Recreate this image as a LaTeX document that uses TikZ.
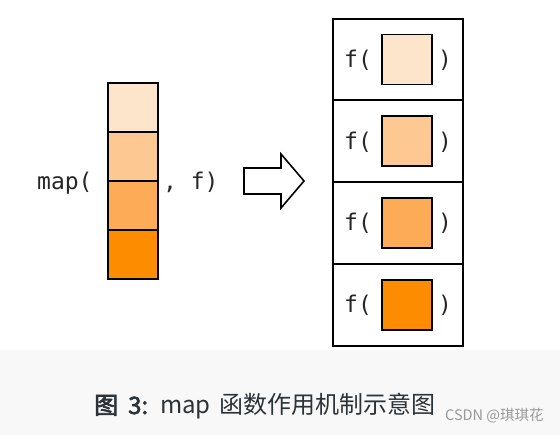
\documentclass[tikz,border=0pt]{standalone}
\usepackage{fontspec}
\newfontfamily\monof{DejaVu Sans Mono}
\newfontfamily\cjk{Noto Sans CJK SC}
\newfontfamily\cjkb{Noto Sans CJK SC}[FakeBold=2.5]
\newfontfamily\wmf{Noto Sans CJK SC}
\definecolor{c1}{HTML}{FDE5CB}
\definecolor{c2}{HTML}{FDC892}
\definecolor{c3}{HTML}{FDAB56}
\definecolor{c4}{HTML}{FD8C00}
\definecolor{capbg}{HTML}{F8F8F8}
\definecolor{captxt}{HTML}{2C3338}
\begin{document}
\begin{tikzpicture}[x=1pt,y=-1pt,
  cell/.style={draw=black,line width=1.8pt,minimum width=50pt,minimum height=49pt,inner sep=0pt},
  sq/.style={draw=black,line width=1.8pt,minimum width=50pt,minimum height=50pt,inner sep=0pt},
  slot/.style={draw=black,line width=1.8pt,minimum width=130pt,minimum height=81.75pt,inner sep=0pt},
  code/.style={font=\monof\fontsize{23}{23}\selectfont,text=black!85,inner sep=0pt,anchor=base west}]
\useasboundingbox (0,0) rectangle (560,435);
\fill[white] (0,0) rectangle (560,350);
\fill[capbg] (0,350) rectangle (560,435);
% left column
\node[cell,fill=c1] (a1) at (133,107.5) {};
\node[cell,fill=c2] (a2) at (133,156.5) {};
\node[cell,fill=c3] (a3) at (133,205.5) {};
\node[cell,fill=c4] (a4) at (133,254.5) {};
\node[code] (mapt) at (37,190) {map(};
\node[code] (ft) at (163,190) {, f)};
% arrow
\draw[line width=1.6pt,line join=miter] (244,168) -- (281,168) -- (281,154) -- (304,181) -- (281,208) -- (281,194) -- (244,194) -- cycle;
% right column
\foreach \i/\c/\y in {1/c1/59.5, 2/c2/141.25, 3/c3/223, 4/c4/304.75}{
  \node[slot] (s\i) at (398,\y) {};
  \node[sq,fill=\c] (q\i) at (407,\y) {};
  \node[code] (fl\i) at (344,\y+8) {f(};
  \node[code] (fr\i) at (438,\y+8) {)};
}
% caption
\node[anchor=base west,inner sep=0pt,text=captxt] (cap) at (94,414)
  {\cjkb\fontsize{24}{24}\selectfont 图\hspace{10pt}3:\hspace{12pt}\cjk\fontsize{24}{24}\selectfont map\hspace{9pt}函数作用机制示意图};
\node[anchor=base west,inner sep=0pt,text=black!40] (wm) at (445,421)
  {\wmf\fontsize{14.5}{14.5}\selectfont CSDN @琪琪花};
\end{tikzpicture}
\end{document}
